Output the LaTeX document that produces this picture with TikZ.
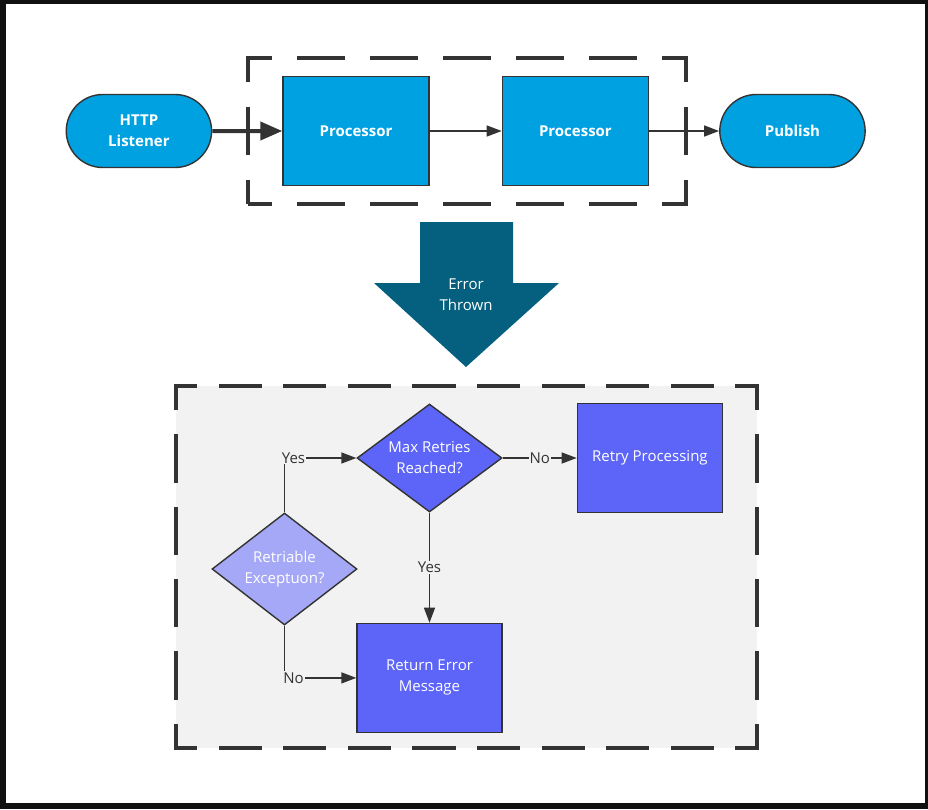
\documentclass[tikz,border=0pt]{standalone}
\usepackage{fontspec}
\setmainfont{Open Sans}
\usepackage{tikz}
\usetikzlibrary{shapes.misc, shapes.geometric, positioning}
\usetikzlibrary{arrows.meta}
\tikzset{>={Triangle[width=11pt,length=15pt]}}
\definecolor{frameBlack}{HTML}{101010}
\definecolor{lineDark}{HTML}{333333}
\definecolor{flowBlue}{HTML}{00A1E0}
\definecolor{errTeal}{HTML}{04607E}
\definecolor{panelGray}{HTML}{F2F2F2}
\definecolor{askLight}{HTML}{A4A8F6}
\definecolor{stepViolet}{HTML}{5D65F8}

\begin{document}
\begin{tikzpicture}[x=1pt, y=-1pt, endnode/.style={rounded rectangle, draw=lineDark, fill=flowBlue, line width=1.4pt, minimum width=152pt, minimum height=73pt, text=white, align=center, font=\fontsize{15}{21}\selectfont\bfseries}, procnode/.style={rectangle, draw=lineDark, fill=flowBlue, line width=1.4pt, minimum width=146pt, minimum height=109pt, text=white, font=\fontsize{15}{21}\selectfont\bfseries}, asknode/.style={diamond, draw=lineDark, line width=1.4pt, minimum width=145pt, minimum height=110pt, inner sep=0pt, shape aspect=1.3, text=white, align=center, font=\fontsize{15}{21}\selectfont}, actnode/.style={rectangle, draw=lineDark, fill=stepViolet, line width=1.4pt, minimum width=145pt, minimum height=109pt, text=white, align=center, font=\fontsize{15}{21}\selectfont}, lbl/.style={fill=panelGray, inner sep=1pt, text=lineDark, font=\fontsize{15}{18}\selectfont}, flowline/.style={draw=lineDark, line width=1.4pt}, groupbox/.style={draw=lineDark, line width=4pt, inner sep=0pt, dash pattern=on 48.67pt off 24.33pt, dash phase=24.33pt}, hside/.style={draw=lineDark, line width=4pt, line cap=rect, dash pattern=on 39.04pt off 25.52pt, dash phase=19.52pt}, vside/.style={draw=lineDark, line width=4pt, line cap=rect, dash pattern=on 44.27pt off 28.13pt, dash phase=22.13pt}]
    
    %Frame
    \useasboundingbox (0,0) rectangle (928,809);
    \fill[frameBlack] (0,0) rectangle (928,809);
    \fill[white] (6,4) rectangle (925,803);
    
    %Groups
    \node[groupbox, minimum width=438pt, minimum height=146pt](flowgroup) at (467,131){};
    \node[fill=panelGray, inner sep=0pt, outer sep=0pt, minimum width=581pt, minimum height=362pt](errgroup) at (466.25,567){};
    \draw[hside] (errgroup.north west) -- (errgroup.north east);
    \draw[hside] (errgroup.south west) -- (errgroup.south east);
    \draw[vside] (errgroup.north west) -- (errgroup.south west);
    \draw[vside] (errgroup.north east) -- (errgroup.south east);
    
    %Nodes
    \node[procnode](proc1) at (356,131){Processor};
    \node[procnode](proc2)[right=72pt of proc1]{Processor};
    \node[endnode](publish)[right=70pt of proc2]{Publish};
    \node[endnode](listener)[left=70pt of proc1]{HTTP\\Listener};
    
    \fill[errTeal] (420,222) -- (513,222) -- (513,283) -- (559,283) -- (466,367) -- (374,283) -- (420,283) -- cycle;
    \node[text=white, align=center, font=\fontsize{15}{21}\selectfont](errtext) at (466,295){Error\\Thrown};
    
    \node[asknode, fill=askLight, minimum height=112pt](retriable) at (284.5,569){Retriable\\Exceptuon?};
    \node[asknode, fill=stepViolet, minimum height=108pt](maxretries) at (429.5,458){Max Retries\\Reached?};
    \node[actnode](retry)[right=74pt of maxretries]{Retry Processing};
    \node[actnode](returnmsg)[below=110pt of maxretries]{Return Error\\Message};
    
    %Lines
    \draw[flowline, line width=4pt, -{Triangle[width=18pt,length=22pt]}] (listener) -- (proc1);
    \draw[flowline, ->] (proc1) -- (proc2);
    \draw[flowline, ->] (proc2) -- (publish);
    \draw[flowline, ->] (retriable.north) |- node[lbl, pos=0.5, xshift=9pt]{Yes} (maxretries.west);
    \draw[flowline, ->] (retriable.south) |- node[lbl, pos=0.5, xshift=9pt]{No} (returnmsg.west);
    \draw[flowline, ->] (maxretries) -- node[lbl]{No} (retry);
    \draw[flowline, ->] (maxretries) -- node[lbl]{Yes} (returnmsg);
    
\end{tikzpicture}
\end{document}
